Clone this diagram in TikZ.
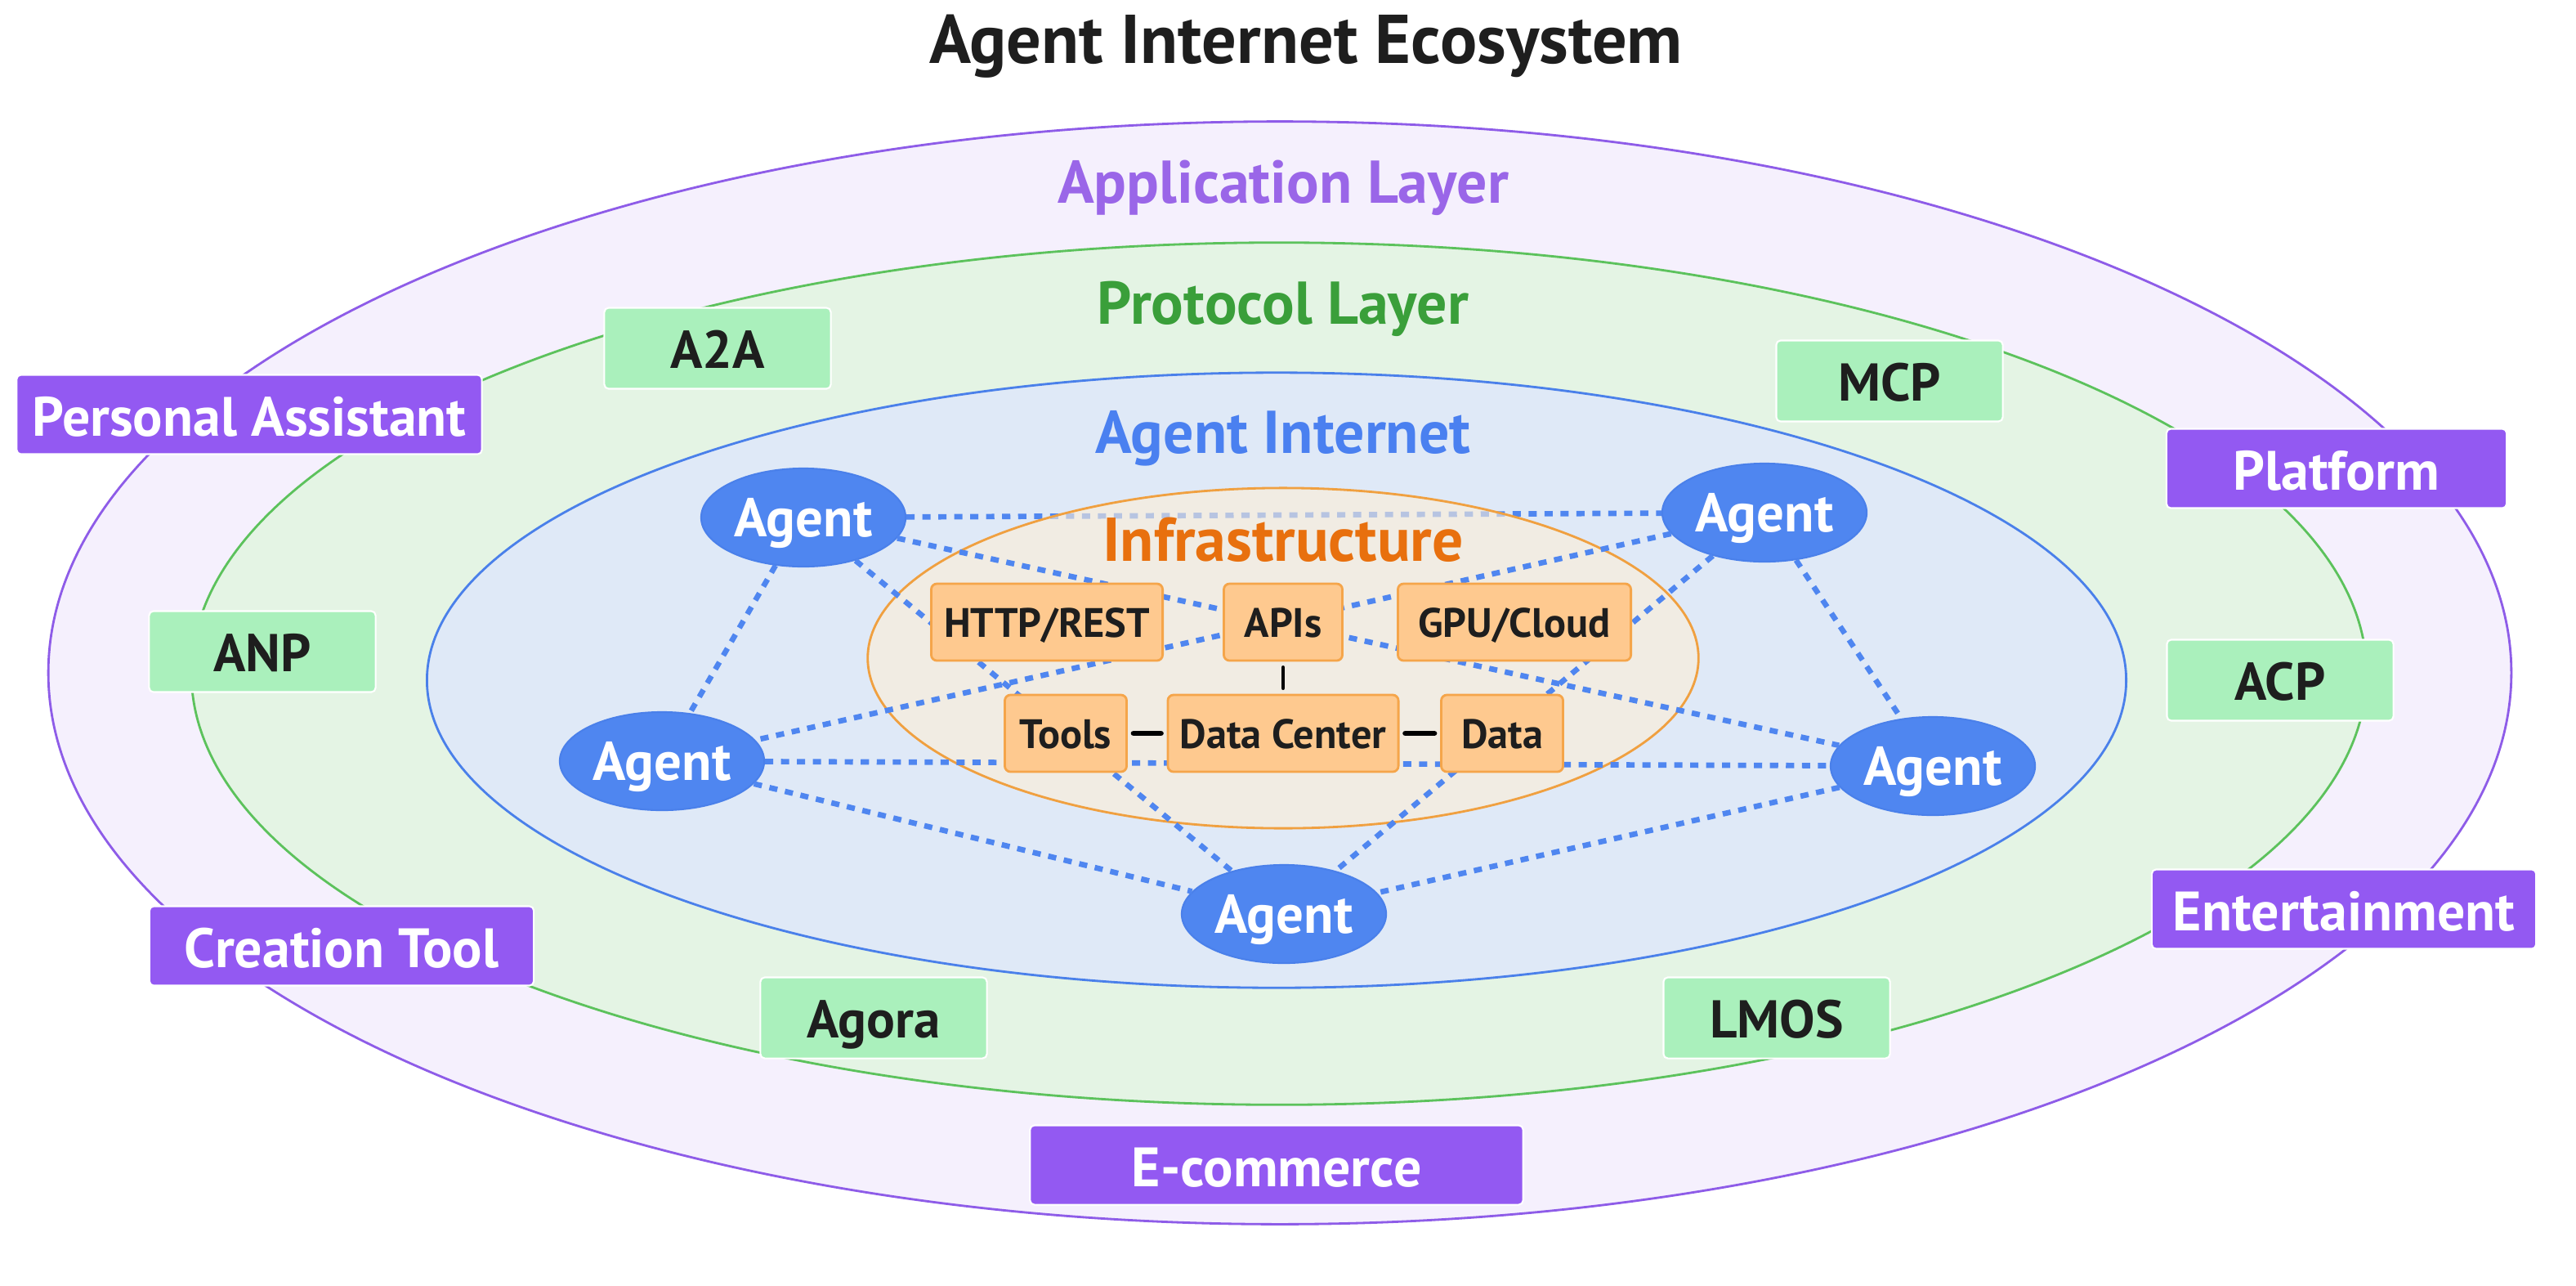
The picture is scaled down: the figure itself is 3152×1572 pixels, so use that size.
\documentclass[tikz,border=0pt]{standalone}
\usepackage{fontspec}
\setmainfont{PT Sans}
\usetikzlibrary{shapes.geometric}

\definecolor{appline}{HTML}{8E5CE8}
\definecolor{appfill}{HTML}{F5F0FD}
\definecolor{apptext}{HTML}{9A66E8}
\definecolor{appbox}{HTML}{9359F2}
\definecolor{protline}{HTML}{5CC25C}
\definecolor{protfill}{HTML}{E4F4E4}
\definecolor{prottext}{HTML}{3A9F3A}
\definecolor{protbox}{HTML}{AAF0BC}
\definecolor{netline}{HTML}{4A80EA}
\definecolor{netfill}{HTML}{DFE9F7}
\definecolor{nettext}{HTML}{4A80F0}
\definecolor{agentblue}{HTML}{4F86F0}
\definecolor{infraline}{HTML}{F0A040}
\definecolor{infrafill}{HTML}{FDEED7}
\definecolor{infratext}{HTML}{E8700E}
\definecolor{infrabox}{HTML}{FEC98F}
\definecolor{infraedge}{HTML}{F5A54A}
\definecolor{darktext}{HTML}{1E1E1E}

\newcommand{\fsz}[1]{\fontsize{#1}{#1}\selectfont\bfseries}

\begin{document}
\begin{tikzpicture}[x=0.01cm, y=-0.01cm,
        layerlabel/.style = {anchor=base, inner sep=0pt, font=\fsz{21pt}},
        appbox/.style = {draw=white, line width=0.6pt, fill=appbox, text=white, rounded corners=1.5pt,
                         minimum height=0.97cm, text height=14.8pt, text depth=0pt, font=\fsz{19.3pt}},
        protbox/.style = {draw=white, line width=0.6pt, fill=protbox, text=darktext, rounded corners=1.5pt,
                          minimum width=2.77cm, minimum height=0.99cm, text height=14pt, text depth=0pt, font=\fsz{18.5pt}},
        infrabox/.style = {draw=infraedge, line width=0.8pt, fill=infrabox, text=darktext, rounded corners=2pt,
                           minimum height=0.94cm, text height=10.5pt, text depth=0pt, font=\fsz{14.3pt}},
        agent/.style = {ellipse, draw=netline, line width=0.6pt, fill=agentblue, text=white, inner sep=0pt,
                        minimum width=2.5cm, minimum height=1.2cm, text height=13.6pt, text depth=0pt, font=\fsz{19pt}},
        agentlink/.style = {agentblue, line width=1.9pt, dash pattern=on 2.85pt off 2.7pt},
        infralink/.style = {black, line width=1.9pt, line cap=round, shorten <=2pt, shorten >=2pt}]
    \useasboundingbox (0,0) rectangle (3152,1572);

    % layers
    \filldraw[fill=appfill, draw=appline, line width=0.8pt] (1566,823) ellipse [x radius=15.06cm, y radius=6.74cm];
    \filldraw[fill=protfill, draw=protline, line width=0.8pt] (1565,824) ellipse [x radius=13.30cm, y radius=5.27cm];
    \filldraw[fill=netfill, draw=netline, line width=0.8pt] (1562,832) ellipse [x radius=10.39cm, y radius=3.76cm];

    \node[anchor=base, inner sep=0pt, font=\fsz{24pt}, text=darktext] (title) at (1598,77) {Agent Internet Ecosystem};
    \node[layerlabel, text=apptext] (applabel) at (1570,248) {Application Layer};
    \node[layerlabel, text=prottext] (protlabel) at (1570,396) {Protocol Layer};
    \node[layerlabel, text=nettext] (netlabel) at (1570,554) {Agent Internet};

    % agents
    \node[agent] (agentnw) at (983,633) {Agent};
    \node[agent] (agentne) at (2159,627) {Agent};
    \node[agent] (agentw) at (810,931) {Agent};
    \node[agent] (agente) at (2365,937) {Agent};
    \node[agent] (agents) at (1571,1118) {Agent};

    \draw[agentlink] (agentnw) -- (agentne);
    \filldraw[fill=infrafill, fill opacity=0.6, draw=infraline, line width=0.8pt] (1570,805) ellipse [x radius=5.08cm, y radius=2.08cm];
    \node[layerlabel, font=\fsz{21.5pt}, text=infratext] (infralabel) at (1570,686) {Infrastructure};

    \foreach \a/\b in {nw/w, nw/e, nw/s, ne/w, ne/e, ne/s, w/e, w/s, e/s}
        \draw[agentlink] (agent\a) -- (agent\b);

    % infrastructure
    \node[infrabox, minimum width=2.83cm] (http) at (1281,761) {HTTP/REST};
    \node[infrabox, minimum width=1.45cm] (apis) at (1570,761) {APIs};
    \node[infrabox, minimum width=2.85cm] (gpu) at (1853,761) {GPU/Cloud};
    \node[infrabox, minimum width=1.49cm] (tools) at (1304,897) {Tools};
    \node[infrabox, minimum width=2.82cm] (dc) at (1570,897) {Data Center};
    \node[infrabox, minimum width=1.49cm] (data) at (1838,897) {Data};

    \draw[infralink, line width=1.4pt] (apis) -- (dc);
    \draw[infralink] (tools) -- (dc);
    \draw[infralink] (dc) -- (data);

    % protocols
    \node[protbox] (a2a) at (878,426) {A2A};
    \node[protbox] (mcp) at (2312,466) {MCP};
    \node[protbox] (anp) at (321,797) {ANP};
    \node[protbox] (acp) at (2790,832) {ACP};
    \node[protbox] (agora) at (1069,1245) {Agora};
    \node[protbox] (lmos) at (2174,1245) {LMOS};

    % applications
    \node[appbox, minimum width=5.69cm] (assistant) at (305,507) {Personal Assistant};
    \node[appbox, minimum width=4.16cm] (platform) at (2859,573) {Platform};
    \node[appbox, minimum width=4.70cm] (creation) at (418,1157) {Creation Tool};
    \node[appbox, minimum width=4.70cm] (entertain) at (2868,1112) {Entertainment};
    \node[appbox, minimum width=6.03cm] (ecommerce) at (1562,1425) {E-commerce};
\end{tikzpicture}
\end{document}
